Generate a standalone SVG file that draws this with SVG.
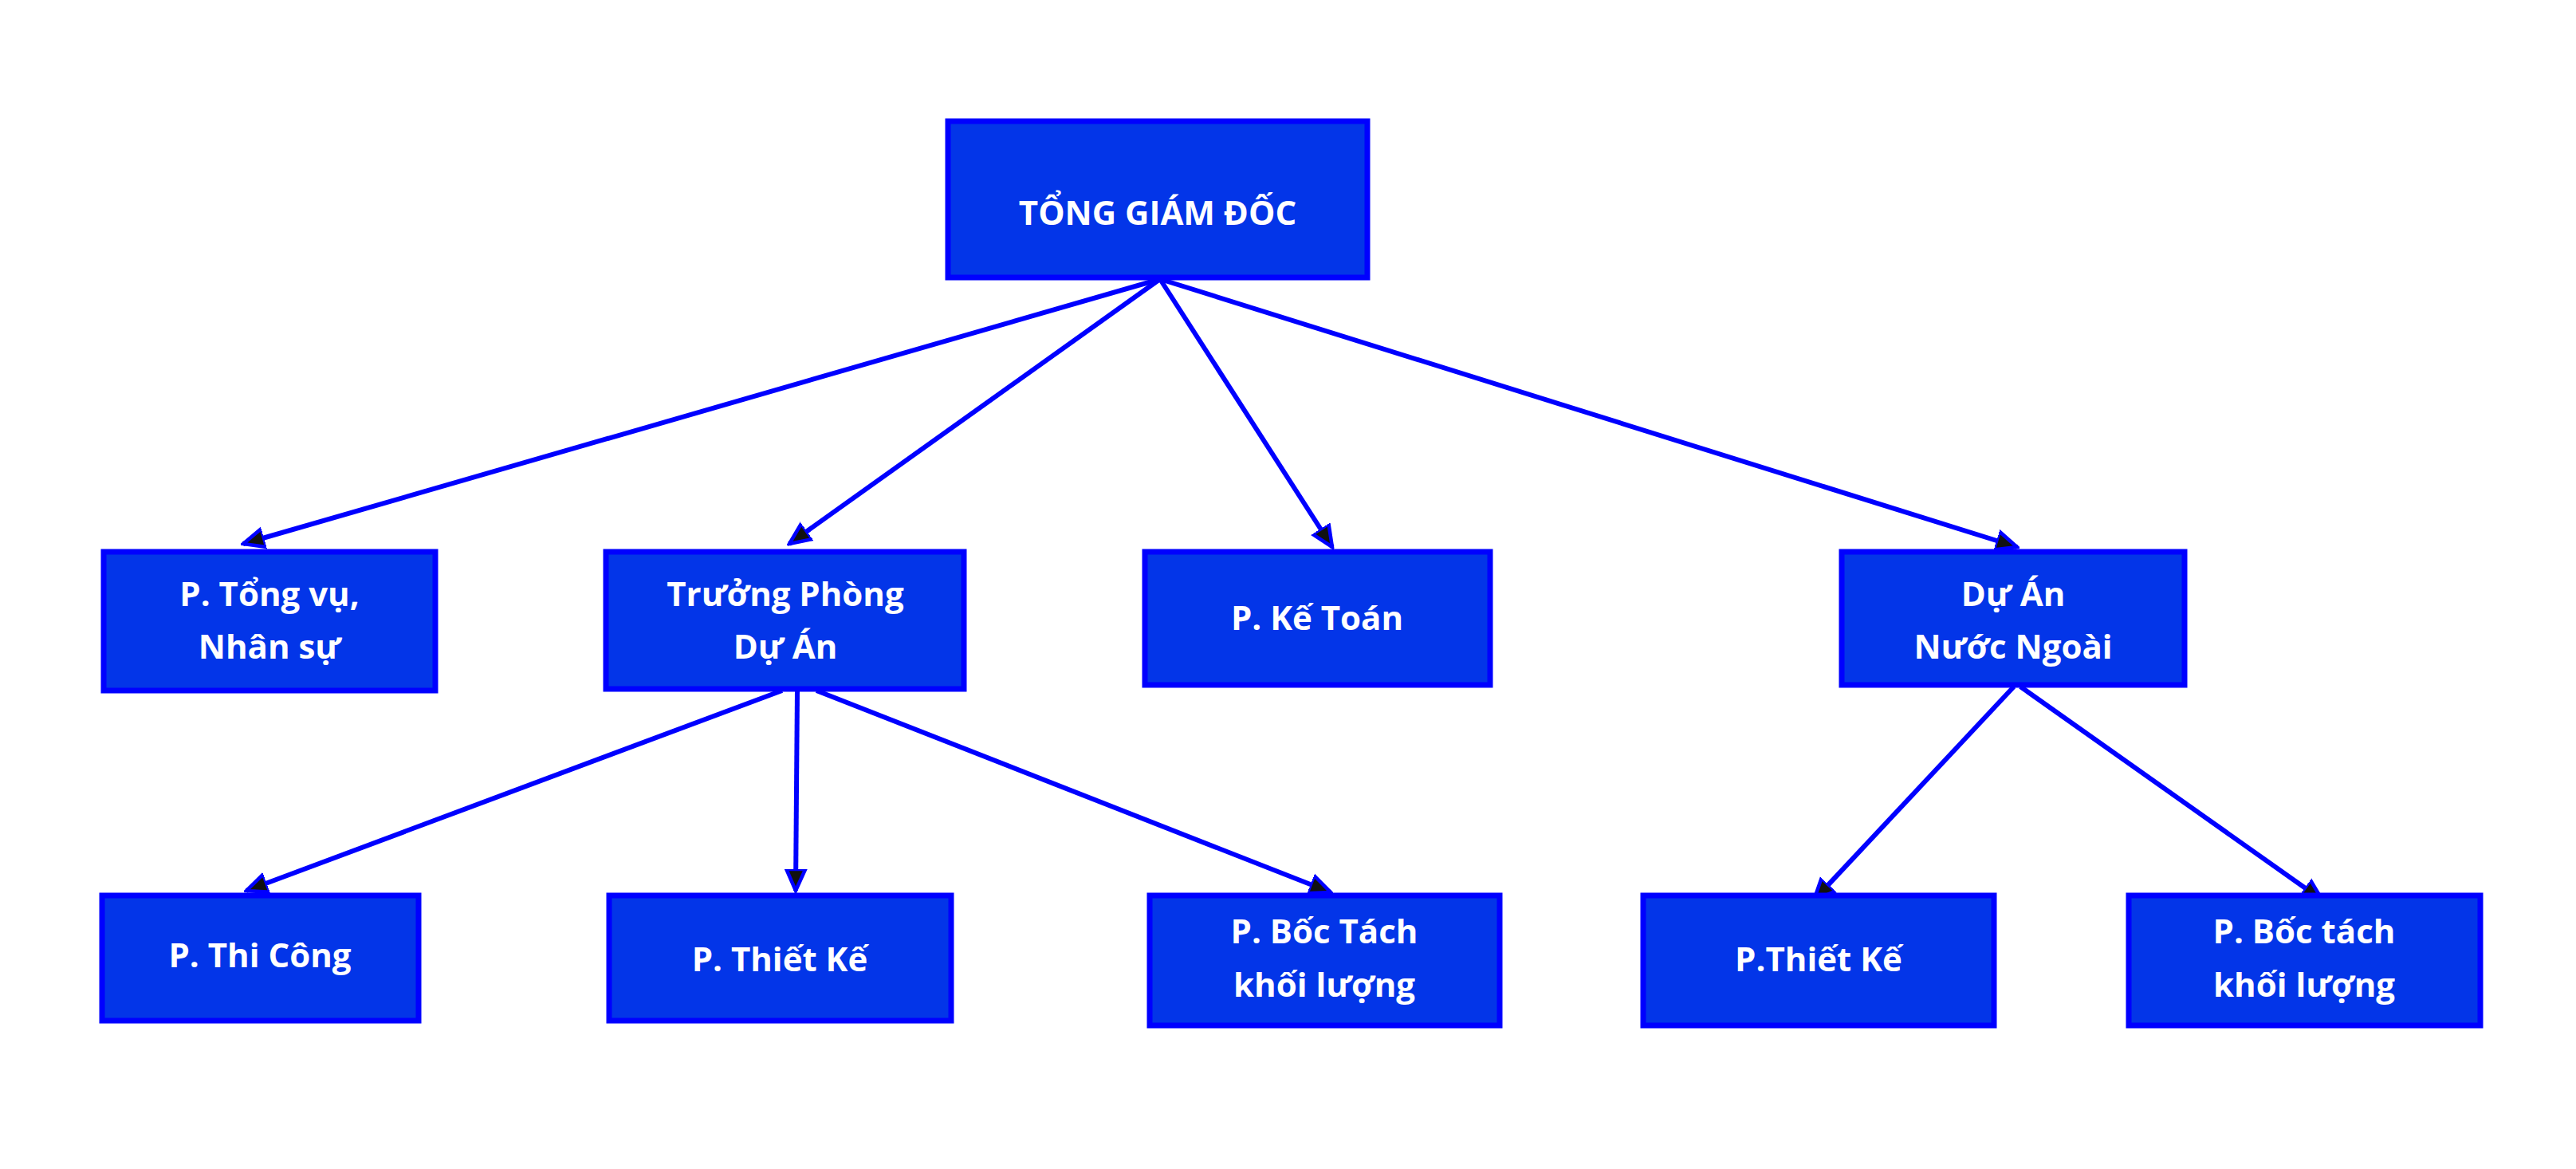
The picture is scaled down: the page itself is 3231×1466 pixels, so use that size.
<svg xmlns="http://www.w3.org/2000/svg" width="3231" height="1466" viewBox="0 0 3231 1466">
<style>
.n rect{fill:#0335E8;stroke:#0000FF;stroke-width:7}
.n text{fill:#fff;font-family:"Open Sans","DejaVu Sans",sans-serif;font-weight:bold;font-size:42px;text-anchor:middle}
.c line{stroke:#0000FF;stroke-width:6;marker-end:url(#a)}
</style>
<defs><marker id="a" viewBox="0 0 10 10" refX="9" refY="5" markerWidth="5" markerHeight="5" orient="auto" markerUnits="strokeWidth"><path d="M0,1 L9,5 L0,9 z" fill="#111" stroke="#0000FF" stroke-width="1.5"/></marker></defs>
<rect width="3231" height="1466" fill="#fff"/>
<g class="c">
<line x1="1455" y1="350" x2="305" y2="682"/>
<line x1="1455" y1="350" x2="990" y2="682"/>
<line x1="1455" y1="350" x2="1671" y2="686"/>
<line x1="1455" y1="350" x2="2530" y2="686"/>
<line x1="981" y1="866" x2="309" y2="1117"/>
<line x1="1000" y1="866" x2="998" y2="1117"/>
<line x1="1024" y1="866" x2="1669" y2="1119"/>
<line x1="2526" y1="861" x2="2275" y2="1129"/>
<line x1="2534" y1="861" x2="2913" y2="1129"/>
</g>
<g id="n0" class="n"><rect x="1189" y="152" width="526" height="196"/><text x="1452" y="282" font-size="46">TỔNG GIÁM ĐỐC</text></g>
<g id="n1" class="n"><rect x="130" y="692" width="416" height="174"/><text x="338" y="760">P. Tổng vụ,</text><text x="338" y="826">Nhân sự</text></g>
<g id="n2" class="n"><rect x="760" y="692" width="449" height="172"/><text x="985" y="760">Trưởng Phòng</text><text x="985" y="826">Dự Án</text></g>
<g id="n3" class="n"><rect x="1436" y="692" width="433" height="167"/><text x="1652" y="790">P. Kế Toán</text></g>
<g id="n4" class="n"><rect x="2310" y="692" width="430" height="167"/><text x="2525" y="760">Dự Án</text><text x="2525" y="826">Nước Ngoài</text></g>
<g id="n5" class="n"><rect x="128" y="1123" width="397" height="157"/><text x="326" y="1213">P. Thi Công</text></g>
<g id="n6" class="n"><rect x="764" y="1123" width="429" height="157"/><text x="978" y="1218">P. Thiết Kế</text></g>
<g id="n7" class="n"><rect x="1442" y="1123" width="439" height="163"/><text x="1661" y="1183">P. Bốc Tách</text><text x="1661" y="1250">khối lượng</text></g>
<g id="n8" class="n"><rect x="2061" y="1123" width="440" height="163"/><text x="2281" y="1218">P.Thiết Kế</text></g>
<g id="n9" class="n"><rect x="2670" y="1123" width="441" height="163"/><text x="2890" y="1183">P. Bốc tách</text><text x="2890" y="1250">khối lượng</text></g>
</svg>
